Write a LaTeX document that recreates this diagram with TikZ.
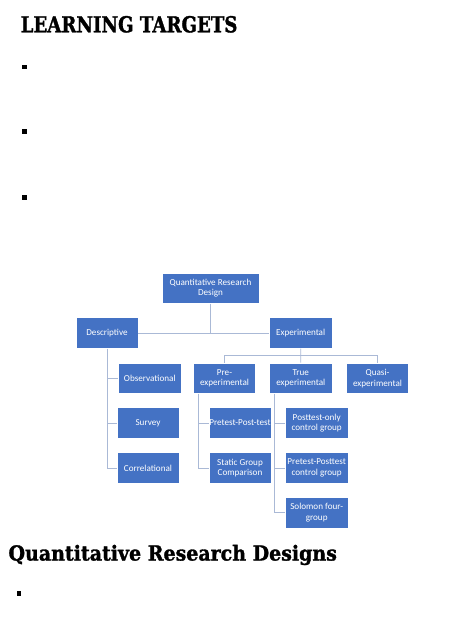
\documentclass[tikz,border=0pt]{standalone}
\usepackage{fontspec}
\setmainfont{Carlito}
\newfontfamily\headfont{DejaVu Serif}[BoldFeatures={FakeBold=1.6}]
\usetikzlibrary{positioning,calc}
\definecolor{boxblue}{RGB}{68,114,196}
\definecolor{connblue}{RGB}{170,185,214}

\begin{document}
\begin{tikzpicture}[x=0.03cm, y=-0.03cm,
  box/.style={draw=white, line width=0.3pt, fill=boxblue, rectangle, minimum width=1.87cm, minimum height=0.92cm, inner sep=0pt, align=center, text=white, font=\fontsize{7.8}{9.2}\selectfont},
  conn/.style={draw=connblue, line width=0.7pt},
  bulletsq/.style={fill=black, rectangle, minimum size=0.13cm, inner sep=0pt}
]
\useasboundingbox (0,0) rectangle (474,632);

% headings
\node[anchor=base west, inner sep=0pt] (head1) at (20.5,32.3) {\resizebox{6.5cm}{0.49cm}{\headfont\bfseries LEARNING TARGETS}};
\node[anchor=base west, inner sep=0pt] (head2) at (8.3,560.5) {\resizebox{9.85cm}{0.47cm}{\headfont\bfseries Quantitative Research Designs}};
\node[bulletsq] (b1) at (24.5,67) {};
\node[bulletsq] (b2) at (24.5,131.5) {};
\node[bulletsq] (b3) at (24.5,197.5) {};
\node[bulletsq] (b4) at (19,593.5) {};

% chart
\node[box, minimum width=2.92cm] (qrd) at (210.5,288.2) {Quantitative Research\\Design};
\node[box] (desc) at (107,333) {Descriptive};
\node[box] (exp) at (300.7,333) {Experimental};
\node[box] (obs) at (149.8,378.2) {Observational};
\node[box] (surv) at (148,423) {Survey};
\node[box] (corr) at (148,468) {Correlational};
\node[box] (pre) at (224.5,378.2) {Pre-\\experimental};
\node[box] (true) at (300.8,378.2) {True\\experimental};
\node[box] (quasi) at (377.5,378.2) {Quasi-\\experimental};
\node[box] (ppt) at (240,423) {Pretest-Post-test};
\node[box] (sgc) at (240,468) {Static Group\\Comparison};
\node[box] (poc) at (316.7,423) {Posttest-only\\control group};
\node[box] (ppc) at (316.7,468) {Pretest-Posttest\\control group};
\node[box] (sol) at (316.7,512.7) {Solomon four-\\group};

\coordinate (expbus) at ($(exp.south)+(0,7.3)$);
\coordinate (pretrunk) at ($(pre.south west)+(5.7,0)$);
\coordinate (truetrunk) at ($(true.south west)+(5,0)$);

\draw[conn] (qrd.south) -- (qrd.south |- desc.east);
\draw[conn] (desc.east) -- (exp.west);
\draw[conn] (exp.south) -- (true.north);
\draw[conn] (pre.north) |- (expbus) -| (quasi.north);
\draw[conn] (desc.south) |- (corr.west);
\draw[conn] (desc.south |- obs.west) -- (obs.west);
\draw[conn] (desc.south |- surv.west) -- (surv.west);
\draw[conn] (pretrunk) |- (sgc.west);
\draw[conn] (pretrunk |- ppt.west) -- (ppt.west);
\draw[conn] (truetrunk) |- (sol.west);
\draw[conn] (truetrunk |- poc.west) -- (poc.west);
\draw[conn] (truetrunk |- ppc.west) -- (ppc.west);
\end{tikzpicture}
\end{document}
